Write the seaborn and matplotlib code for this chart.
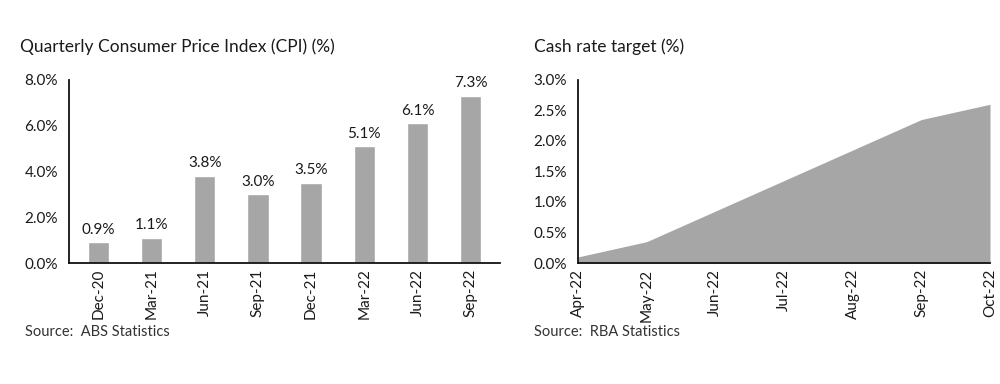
"""
CPI vs RBA cash rate target - two panel chart.
"""

import matplotlib

matplotlib.use("Agg")

import matplotlib.pyplot as plt
import pandas as pd
import seaborn as sns
from matplotlib.ticker import FuncFormatter

# quarterly CPI (%)
CPI_QUARTERS = ["Dec-20", "Mar-21", "Jun-21", "Sep-21", "Dec-21", "Mar-22", "Jun-22", "Sep-22"]
CPI_VALUES = [0.9, 1.1, 3.8, 3.0, 3.5, 5.1, 6.1, 7.3]

# cash rate target (%)
CASH_MONTHS = ["Apr-22", "May-22", "Jun-22", "Jul-22", "Aug-22", "Sep-22", "Oct-22"]
CASH_VALUES = [0.1, 0.35, 0.85, 1.35, 1.85, 2.35, 2.6]

GREY = "#a6a6a6"
FONT = ["Lato", "DejaVu Sans"]

sns.set_theme(style="white")
plt.rcParams["font.family"] = FONT
plt.rcParams["text.color"] = "#1a1a1a"
plt.rcParams["xtick.color"] = "#1a1a1a"
plt.rcParams["ytick.color"] = "#1a1a1a"

pct = FuncFormatter(lambda v, _: f"{v:.1f}%")


def style_axis(ax):
    for side in ["top", "right"]:
        ax.spines[side].set_visible(False)
    for side in ["left", "bottom"]:
        ax.spines[side].set_color("#111111")
        ax.spines[side].set_linewidth(1.3)
    ax.yaxis.set_major_formatter(pct)
    ax.tick_params(axis="y", labelsize=11, length=0, pad=8)
    ax.tick_params(axis="x", labelsize=11, length=0, labelrotation=90, pad=4)
    ax.set_xlabel("")
    ax.set_ylabel("")


fig = plt.figure(figsize=(10, 3.84), dpi=100)
ax1 = fig.add_axes([0.069, 0.315, 0.431, 0.477])
ax2 = fig.add_axes([0.578, 0.315, 0.412, 0.477])

# left: CPI bars
cpi = pd.DataFrame({"quarter": CPI_QUARTERS, "value": CPI_VALUES})
sns.barplot(data=cpi, x="quarter", y="value", color=GREY, saturation=1, width=0.4, ax=ax1)
ax1.set_ylim(0, 8)
ax1.set_yticks([0, 2, 4, 6, 8])
ax1.set_xlim(-0.55, len(CPI_QUARTERS) - 0.45)
for container in ax1.containers:
    ax1.bar_label(container, labels=[f"{v:.1f}%" for v in CPI_VALUES], padding=4, fontsize=11)
style_axis(ax1)

# right: cash rate area
cash = pd.DataFrame({"month": CASH_MONTHS, "value": CASH_VALUES})
cash["pos"] = range(len(cash))
sns.lineplot(data=cash, x="pos", y="value", color=GREY, linewidth=0, ax=ax2)
ax2.fill_between(cash["pos"], cash["value"], color=GREY, linewidth=0)
ax2.set_xlim(0, len(CASH_MONTHS) - 1)
ax2.set_ylim(0, 3)
ax2.set_yticks([0, 0.5, 1.0, 1.5, 2.0, 2.5, 3.0])
ax2.set_xticks(cash["pos"])
ax2.set_xticklabels(CASH_MONTHS)
style_axis(ax2)

fig.text(0.020, 0.878, "Quarterly Consumer Price Index (CPI) (%)", fontsize=12.5, va="center")
fig.text(0.534, 0.878, "Cash rate target (%)", fontsize=12.5, va="center")
fig.text(0.025, 0.135, "Source:  ABS Statistics", fontsize=10.5, va="center", color="#333333")
fig.text(0.534, 0.135, "Source:  RBA Statistics", fontsize=10.5, va="center", color="#333333")

fig.savefig("out.png", dpi=100, facecolor="white")
